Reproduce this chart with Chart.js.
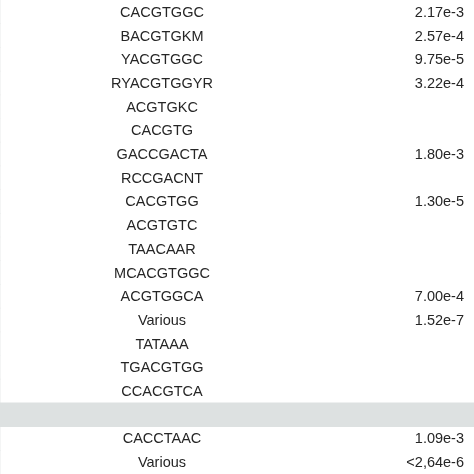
<!DOCTYPE html>
<html>
<head>
<meta charset="utf-8">
<script src="https://cdn.jsdelivr.net/npm/chart.js@4"></script>
<style>
  html, body { margin: 0; padding: 0; background: #fff; }
  #wrap { width: 474px; height: 474px; }
</style>
</head>
<body>
<div id="wrap"><canvas id="chart"></canvas></div>
<script>
// Table rows (the empty row is the grey separator band)
const motifs = ['CACGTGGC', 'BACGTGKM', 'YACGTGGC', 'RYACGTGGYR', 'ACGTGKC', 'CACGTG',
  'GACCGACTA', 'RCCGACNT', 'CACGTGG', 'ACGTGTC', 'TAACAAR', 'MCACGTGGC', 'ACGTGGCA',
  'Various', 'TATAAA', 'TGACGTGG', 'CCACGTCA', '', 'CACCTAAC', 'Various'];
const pValues = ['2.17e-3', '2.57e-4', '9.75e-5', '3.22e-4', '', '',
  '1.80e-3', '', '1.30e-5', '', '', '', '7.00e-4',
  '1.52e-7', '', '', '', '', '1.09e-3', '<2,64e-6'];
const bandRows = [0, 0, 0, 0, 0, 0, 0, 0, 0, 0, 0, 0, 0, 0, 0, 0, 0, 1, 0, 0];

const rowKeys = motifs.map((m, i) => 'r' + i);

// draws the cell texts on the rows of the y scale
const tableText = {
  id: 'tableText',
  afterDatasetsDraw(chart) {
    const ctx = chart.ctx;
    const y = chart.scales.y;
    ctx.save();
    ctx.font = '14.5px "Liberation Sans", Arial, sans-serif';
    ctx.fillStyle = '#262626';
    ctx.textBaseline = 'middle';
    motifs.forEach((m, i) => {
      const py = y.getPixelForValue(i) + 1;
      ctx.textAlign = 'center';
      ctx.fillText(m, 162, py);
      ctx.textAlign = 'right';
      ctx.fillText(pValues[i], 464, py);
    });
    ctx.restore();
  }
};

new Chart(document.getElementById('chart'), {
  type: 'bar',
  data: {
    labels: rowKeys,
    datasets: [{
      data: bandRows,
      backgroundColor: '#dde1e1',
      barPercentage: 1,
      categoryPercentage: 1,
      borderWidth: 0,
      base: -0.01
    }]
  },
  options: {
    indexAxis: 'y',
    responsive: true,
    maintainAspectRatio: false,
    animation: false,
    layout: { padding: 0 },
    plugins: { legend: { display: false }, tooltip: { enabled: false } },
    scales: {
      x: { display: false, min: 0, max: 1 },
      y: { display: false, offset: true }
    }
  },
  plugins: [tableText]
});
</script>
</body>
</html>
